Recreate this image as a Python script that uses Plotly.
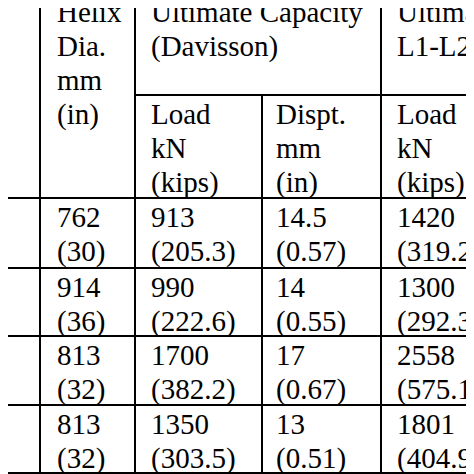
import plotly.graph_objects as go

helix = ["762\n(30)", "914\n(36)", "813\n(32)", "813\n(32)"]
dav_load = ["913\n(205.3)", "990\n(222.6)", "1700\n(382.2)", "1350\n(303.5)"]
dav_disp = ["14.5\n(0.57)", "14\n(0.55)", "17\n(0.67)", "13\n(0.51)"]
ult_load = ["1420\n(319.2)", "1300\n(292.3)", "2558\n(575.1)", "1801\n(404.9)"]
left_col = ["", "", "6)", "6)"]

col_x = [5, 55, 149, 274, 395]
row_tops = [198, 268, 336, 405]
LH = 34
FS = 29
OFF = 8  # page body margin offset

fig = go.Figure()
shapes = []
def line(x0, y0, x1, y1):
    shapes.append(dict(type="line", x0=x0, y0=y0, x1=x1, y1=y1, xref="x", yref="y",
                       line=dict(color="black", width=2)))
line(40, -20, 40, 500)
line(135, -20, 135, 500)
line(262, 95, 262, 500)
line(381, -20, 381, 500)
line(135, 95, 500, 95)
line(-20, 198, 500, 198)
for y in row_tops[1:]:
    line(-20, y, 500, y)
line(-20, 473, 500, 473)

ann = []
def text(x, y, lines):
    for i, t in enumerate(lines):
        ann.append(dict(x=x, y=y + i * LH, text=t, xref="x", yref="y", showarrow=False,
                        xanchor="left", yanchor="middle", font=dict(size=FS, color="black",
                        family="Liberation Serif")))

text(-4, 80, [")"])
text(col_x[1], 12, ["Helix", "Dia.", "mm", "(in)"])
text(col_x[2], 12, ["Ultimate Capacity", "(Davisson)"])
text(col_x[4], 12, ["Ultimate Capacity", "L1-L2"])
text(col_x[2], 114, ["Load", "kN", "(kips)"])
text(col_x[3], 114, ["Dispt.", "mm", "(in)"])
text(col_x[4], 114, ["Load", "kN", "(kips)"])

for r, top in enumerate(row_tops):
    y = top + 19
    if left_col[r]:
        text(-10, y, [left_col[r]])
    text(col_x[1], y, helix[r].split("\n"))
    text(col_x[2], y, dav_load[r].split("\n"))
    text(col_x[3], y, dav_disp[r].split("\n"))
    text(col_x[4], y, ult_load[r].split("\n"))

fig.update_layout(width=474, height=474, margin=dict(l=0, r=0, t=0, b=0),
                  plot_bgcolor="white", paper_bgcolor="white", shapes=shapes, annotations=ann,
                  xaxis=dict(range=[OFF, 474 + OFF], visible=False, fixedrange=True),
                  yaxis=dict(range=[474 + OFF, OFF], visible=False, fixedrange=True),
                  showlegend=False)
fig.write_html("out.html")
